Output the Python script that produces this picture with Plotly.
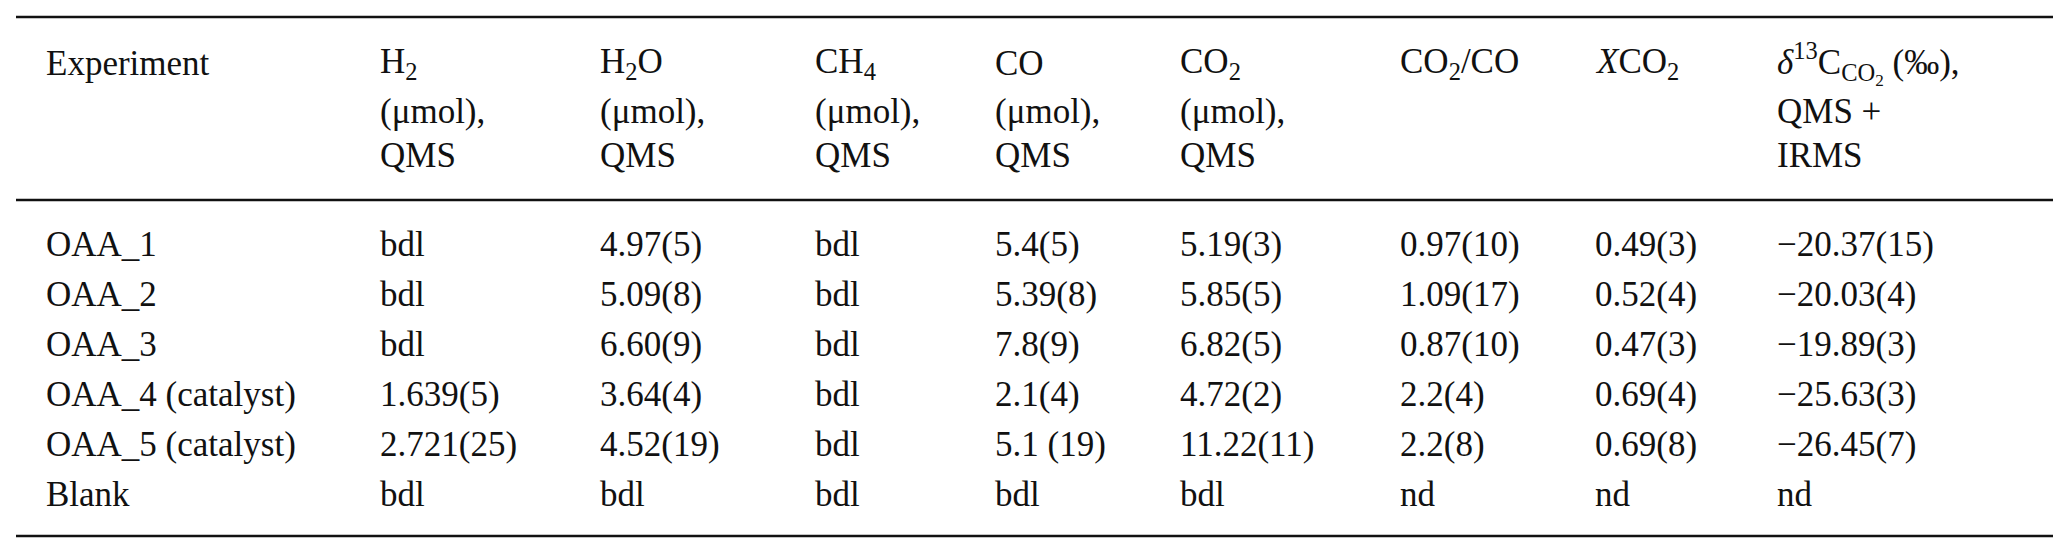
import plotly.graph_objects as go

W, H = 2067, 544
col_x = [36, 370, 590, 805, 985, 1170, 1390, 1585, 1767]
header_lines = [
    ["Experiment", "H<sub>2</sub>", "H<sub>2</sub>O", "CH<sub>4</sub>", "CO", "CO<sub>2</sub>", "CO<sub>2</sub>/CO", "<i>X</i>CO<sub>2</sub>", "<i>δ</i><sup>13</sup>C<sub>CO<sub>2</sub></sub> (‰),"],
    ["", "(μmol),", "(μmol),", "(μmol),", "(μmol),", "(μmol),", "", "", "QMS +"],
    ["", "QMS", "QMS", "QMS", "QMS", "QMS", "", "", "IRMS"],
]
experiments = ["OAA_1", "OAA_2", "OAA_3", "OAA_4 (catalyst)", "OAA_5 (catalyst)", "Blank"]
h2 = ["bdl", "bdl", "bdl", "1.639(5)", "2.721(25)", "bdl"]
h2o = ["4.97(5)", "5.09(8)", "6.60(9)", "3.64(4)", "4.52(19)", "bdl"]
ch4 = ["bdl", "bdl", "bdl", "bdl", "bdl", "bdl"]
co = ["5.4(5)", "5.39(8)", "7.8(9)", "2.1(4)", "5.1 (19)", "bdl"]
co2 = ["5.19(3)", "5.85(5)", "6.82(5)", "4.72(2)", "11.22(11)", "bdl"]
ratio = ["0.97(10)", "1.09(17)", "0.87(10)", "2.2(4)", "2.2(8)", "nd"]
xco2 = ["0.49(3)", "0.52(4)", "0.47(3)", "0.69(4)", "0.69(8)", "nd"]
d13c = ["−20.37(15)", "−20.03(4)", "−19.89(3)", "−25.63(3)", "−26.45(7)", "nd"]

header_y = [55, 103, 147]
row_y = [236, 286, 336, 386, 436, 486]
rule_y = [9, 192, 528]
columns = [experiments, h2, h2o, ch4, co, co2, ratio, xco2, d13c]

FONT = dict(family="Liberation Serif, Times New Roman, serif", size=35, color="#111")
fig = go.Figure()
fig.add_trace(go.Scatter(x=[0, W], y=[0, H], mode="markers", marker=dict(opacity=0), hoverinfo="skip", showlegend=False))
ann = []
for li, line in enumerate(header_lines):
    for ci, t in enumerate(line):
        if t:
            ann.append(dict(x=col_x[ci], y=header_y[li], text=t, xanchor="left", yanchor="middle", showarrow=False, font=FONT))
for ci, col in enumerate(columns):
    for ri, t in enumerate(col):
        ann.append(dict(x=col_x[ci], y=row_y[ri], text=t, xanchor="left", yanchor="middle", showarrow=False, font=FONT))
shapes = [dict(type="line", x0=8, x1=2045, y0=y, y1=y, line=dict(color="#111", width=2.5)) for y in rule_y]
fig.update_layout(width=W, height=H, margin=dict(l=0, r=0, t=0, b=0), paper_bgcolor="white", plot_bgcolor="white",
                  annotations=ann, shapes=shapes,
                  xaxis=dict(range=[0, W], visible=False, fixedrange=True),
                  yaxis=dict(range=[H, 0], visible=False, fixedrange=True))
fig.write_html("out.html", config=dict(displayModeBar=False))
